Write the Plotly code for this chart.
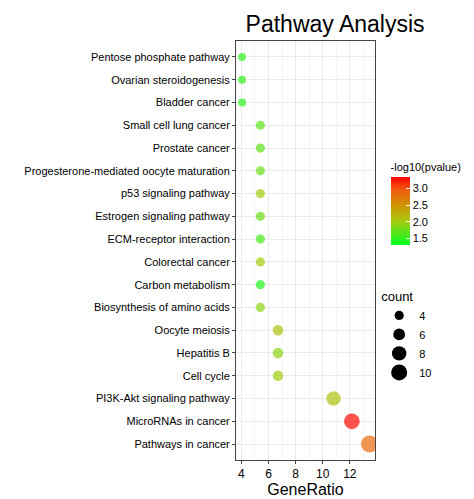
import plotly.graph_objects as go

pathways = ["Pentose phosphate pathway","Ovarian steroidogenesis","Bladder cancer","Small cell lung cancer",
 "Prostate cancer","Progesterone-mediated oocyte maturation","p53 signaling pathway","Estrogen signaling pathway",
 "ECM-receptor interaction","Colorectal cancer","Carbon metabolism","Biosynthesis of amino acids",
 "Oocyte meiosis","Hepatitis B","Cell cycle","PI3K-Akt signaling pathway","MicroRNAs in cancer","Pathways in cancer"]
gene_ratio = [4.05,4.05,4.05,5.4,5.4,5.4,5.4,5.4,5.4,5.4,5.4,5.4,6.7,6.7,6.7,10.8,12.15,13.45]
counts = [3,3,3,4,4,4,4,4,4,4,4,4,5,5,5,8,9,10]
neglogp = [1.5,1.5,1.5,1.7,1.7,1.75,2.0,1.75,1.6,2.0,1.45,1.9,2.1,1.9,2.0,2.1,3.3,2.85]
legend_counts = [4,6,8,10]

def sz(c): return 4 + 1.3*c
cs = [[0,"#00ff22"],[0.35,"#a8cc10"],[0.6,"#d09000"],[0.8,"#f06010"],[1,"#ff0000"]]

fig = go.Figure()
fig.add_trace(go.Scatter(x=gene_ratio, y=pathways, mode="markers", showlegend=False,
    marker=dict(size=[sz(c) for c in counts], color=neglogp, colorscale=cs, cmin=1.3, cmax=3.35,
        line=dict(width=0),
        colorbar=dict(title=dict(text="-log10(pvalue)", side="top", font=dict(size=11)),
            tickvals=[1.5,2.0,2.5,3.0], ticktext=["1.5","2.0","2.5","3.0"],
            lenmode="pixels", len=105, thickness=19, x=1.04, xanchor="left",
            y=0.74, yanchor="top", outlinewidth=0, ticks="inside", ticklen=4, tickcolor="white",
            tickfont=dict(size=11)))))
for c in legend_counts:
    fig.add_trace(go.Scatter(x=[None], y=[None], mode="markers", name=str(c),
        marker=dict(size=sz(c), color="black")))
fig.update_layout(width=474, height=499, margin=dict(l=228, r=97, t=33, b=37),
    paper_bgcolor="white", plot_bgcolor="white",
    font=dict(family="Liberation Sans, Arial", color="black", size=11),
    title=dict(text="Pathway Analysis", x=0.69, xanchor="center", y=0.985, yanchor="top", font=dict(size=23)),
    legend=dict(title=dict(text="count"), x=1.03, xanchor="left", y=0.42, yanchor="top",
        itemsizing="trace", bgcolor="rgba(0,0,0,0)", font=dict(size=11)))
fig.update_xaxes(range=[3.6,13.86], tickvals=[4,6,8,10,12], showgrid=True, gridcolor="#ebebeb",
    minor=dict(showgrid=True, gridcolor="#f5f5f5", dtick=1), zeroline=False,
    showline=True, linecolor="#444", mirror=True, ticks="outside", ticklen=3,
    title=dict(text="GeneRatio", font=dict(size=16), standoff=2), tickfont=dict(size=12))
fig.update_yaxes(categoryorder="array", categoryarray=pathways[::-1], showgrid=True, gridcolor="#ebebeb",
    showline=True, linecolor="#444", mirror=True, ticks="outside", ticklen=3, range=[-0.7,17.7],
    tickfont=dict(size=11))
fig.write_html("out.html")
